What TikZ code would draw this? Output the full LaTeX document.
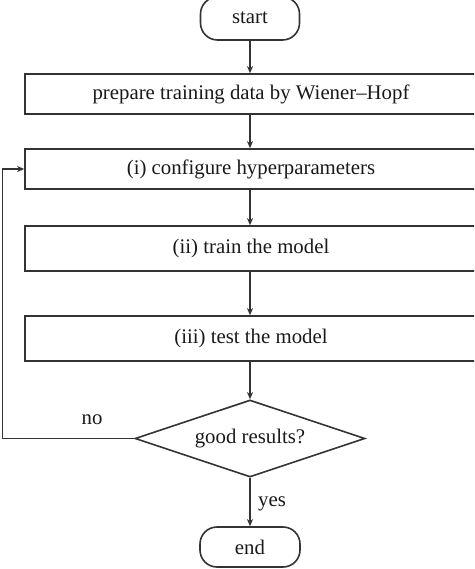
\documentclass[tikz,border=0pt]{standalone}
\usepackage{fontspec}
\setmainfont{Liberation Serif}
\usetikzlibrary{shapes.geometric,arrows.meta}
\definecolor{linec}{HTML}{333333}
\begin{document}
\begin{tikzpicture}[x=1pt,y=-1pt,
  font=\fontsize{20.8pt}{24pt}\selectfont,
  every node/.style={text=black!90},
  terminal/.style={draw=linec,line width=1.6pt,rounded corners=17pt,minimum width=99pt,inner sep=0pt},
  stepbox/.style={draw=linec,line width=1.6pt,minimum width=452pt,inner sep=0pt},
  decision/.style={draw=linec,line width=1.6pt,diamond,aspect=3,minimum width=230pt,minimum height=77pt,inner sep=0pt},
  flow/.style={draw=linec,line width=1.4pt,-{Stealth[length=7pt,width=6pt,inset=2pt]}},
  lbl/.style={inner sep=0pt}]
\useasboundingbox (0,0) rectangle (474,569);
\clip (0,0) rectangle (474,569);
\node[terminal,minimum height=43pt] (start) at (250,18.5) {\raisebox{1pt}{start}};
\node[stepbox,minimum height=40pt] (b1) at (251,94) {prepare training data by Wiener--Hopf};
\node[stepbox,minimum height=40pt] (b2) at (251,169) {(i) configure hyperparameters};
\node[stepbox,minimum height=45pt] (b3) at (251,248.5) {(ii) train the model};
\node[stepbox,minimum height=45pt] (b4) at (251,338.5) {(iii) test the model};
\node[decision] (dec) at (250,438.5) {good results?};
\node[terminal,minimum height=40pt,minimum width=100pt] (end) at (250,547) {end};
\coordinate (loop) at (2.5,438.5);
\node[lbl] (no) at (92,420) {no};
\node[lbl] (yes) at (272,504) {yes};
\draw[flow] (start.south) -- (start.south |- b1.north);
\draw[flow] (b1.south -| start.south) -- (start.south |- b2.north);
\draw[flow] (b2.south -| start.south) -- (start.south |- b3.north);
\draw[flow] (b3.south -| start.south) -- (start.south |- b4.north);
\draw[flow] (b4.south -| start.south) -- (dec.north);
\draw[flow] (dec.south) -- (end.north);
\draw[flow] (dec.west) -- (loop) |- (b2.west);
\end{tikzpicture}
\end{document}
